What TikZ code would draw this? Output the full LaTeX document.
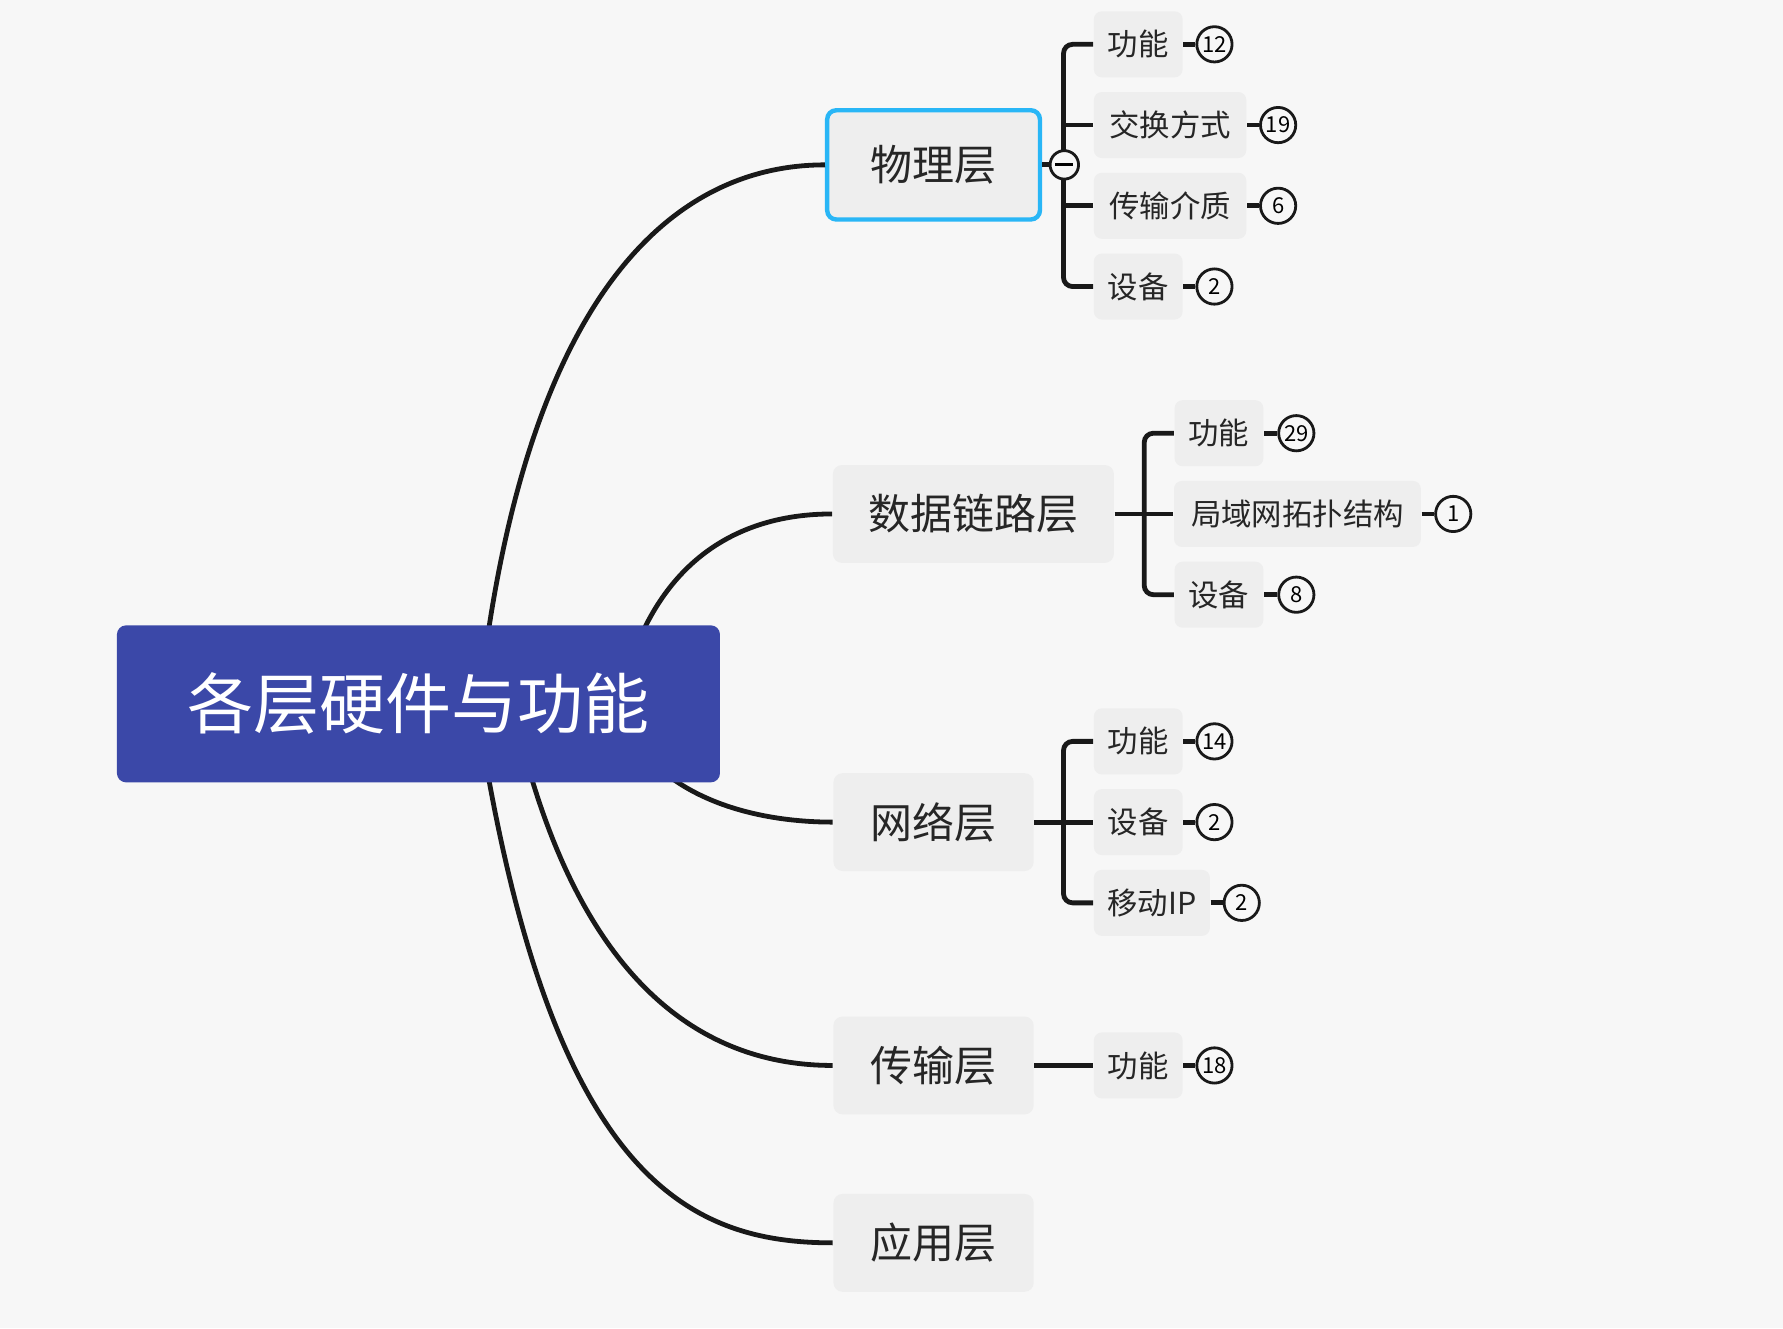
\documentclass[tikz,border=0pt]{standalone}
\usepackage{fontspec}
\setmainfont{Noto Sans CJK SC}
\begin{document}
\begin{tikzpicture}[x=0.01cm,y=-0.01cm,
  ln/.style={line width=1.2pt,draw=black!90},
  root/.style={fill=rootc,rounded corners=0.08cm,text=white,minimum width=5.3cm,minimum height=1.38cm,font=\fontsize{16.5pt}{18pt}\selectfont},
  l1/.style={fill=boxc,rounded corners=0.08cm,minimum height=0.86cm,font=\fontsize{10.5pt}{12pt}\selectfont,text=black!85},
  l2/.style={fill=boxc,rounded corners=0.07cm,minimum height=0.58cm,font=\fontsize{7.6pt}{9pt}\selectfont,text=black!85},
  cnt/.style={circle,draw=black!90,line width=0.7pt,fill=bgc,inner sep=0pt,minimum size=0.31cm,font=\fontsize{5.5pt}{6pt}\selectfont},
  rc/.style={ln,rounded corners=0.08cm}]
\definecolor{bgc}{HTML}{F7F7F7}
\definecolor{boxc}{HTML}{EEEEEE}
\definecolor{rootc}{HTML}{3B48A8}
\definecolor{selc}{HTML}{29B6F6}
\fill[bgc] (0,0) rectangle (1568,1168);
\useasboundingbox (0,0) rectangle (1568,1168);
% level 1
\node[l1,minimum width=1.87cm,minimum height=0.96cm,draw=selc,line width=1.1pt] (p) at (821,145) {物理层};
\node[l1,minimum width=2.47cm] (d) at (856,452) {数据链路层};
\node[l1,minimum width=1.76cm] (n) at (821,723) {网络层};
\node[l1,minimum width=1.76cm] (t) at (821,937) {传输层};
\node[l1,minimum width=1.76cm] (a) at (821,1093) {应用层};
% root curves
\coordinate (r1) at (430,552);
\coordinate (r2) at (567,552);
\coordinate (r3) at (593,686);
\coordinate (r4) at (468,686);
\coordinate (r5) at (430,686);
\draw[ln] (r1) .. controls (475,260) and (590,145) .. (p.west);
\draw[ln] (r2) .. controls (605,475) and (670,452) .. (d.west);
\draw[ln] (r3) .. controls (635,715) and (690,723) .. (n.west);
\draw[ln] (r4) .. controls (530,890) and (640,937) .. (t.west);
\draw[ln] (r5) .. controls (495,1040) and (610,1093) .. (a.west);
\node[root] (root) at (368,619) {各层硬件与功能};
% physical children
\node[l2,minimum width=0.78cm] (p1) at (1001,39) {功能};
\node[l2,minimum width=1.34cm] (p2) at (1029,110) {交换方式};
\node[l2,minimum width=1.34cm] (p3) at (1029,181) {传输介质};
\node[l2,minimum width=0.78cm] (p4) at (1001,252) {设备};
\draw[rc] (p1.west) -- ++(-26,0) |- (p4.west);
\draw[ln] (p2.west) -- ++(-26,0);
\draw[ln] (p3.west) -- ++(-26,0);
\coordinate (pb) at (936,145);
\draw[ln] (p.east) -- (pb);
\node[cnt,minimum size=0.25cm] (pc) at (pb) {};
\draw[line width=0.8pt] ([xshift=-0.08cm]pc.center) -- ([xshift=0.08cm]pc.center);
\node[cnt] (c1) at (1068,39) {12};
\node[cnt] (c2) at (1124,110) {19};
\node[cnt] (c3) at (1124,181) {6};
\node[cnt] (c4) at (1068,252) {2};
\draw[ln] (p1.east) -- (c1.west); \draw[ln] (p2.east) -- (c2.west);
\draw[ln] (p3.east) -- (c3.west); \draw[ln] (p4.east) -- (c4.west);
% data link children
\node[l2,minimum width=0.78cm] (d1) at (1072,381) {功能};
\node[l2,minimum width=2.17cm] (d2) at (1141,452) {局域网拓扑结构};
\node[l2,minimum width=0.78cm] (d3) at (1072,523) {设备};
\draw[rc] (d1.west) -- ++(-26,0) |- (d3.west);
\draw[ln] (d.east) -- (d2.west);
\node[cnt] (e1) at (1140,381) {29};
\node[cnt] (e2) at (1278,452) {1};
\node[cnt] (e3) at (1140,523) {8};
\draw[ln] (d1.east) -- (e1.west); \draw[ln] (d2.east) -- (e2.west); \draw[ln] (d3.east) -- (e3.west);
% network children
\node[l2,minimum width=0.78cm] (n1) at (1001,652) {功能};
\node[l2,minimum width=0.78cm] (n2) at (1001,723) {设备};
\node[l2,minimum width=1.02cm] (n3) at (1013,794) {移动IP};
\draw[rc] (n1.west) -- ++(-26,0) |- (n3.west);
\draw[ln] (n.east) -- (n2.west);
\node[cnt] (f1) at (1068,652) {14};
\node[cnt] (f2) at (1068,723) {2};
\node[cnt] (f3) at (1092,794) {2};
\draw[ln] (n1.east) -- (f1.west); \draw[ln] (n2.east) -- (f2.west); \draw[ln] (n3.east) -- (f3.west);
% transport
\node[l2,minimum width=0.78cm] (t1) at (1001,937) {功能};
\draw[ln] (t.east) -- (t1.west);
\node[cnt] (g1) at (1068,937) {18};
\draw[ln] (t1.east) -- (g1.west);
\end{tikzpicture}
\end{document}
